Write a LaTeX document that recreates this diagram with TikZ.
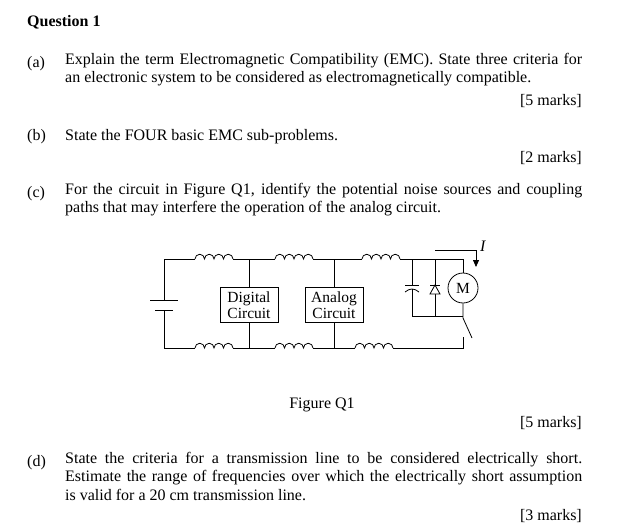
\documentclass[tikz,border=0pt]{standalone}
\usepackage{fontspec}
\setmainfont{Liberation Serif}
\usetikzlibrary{arrows.meta}
\begin{document}
\begin{tikzpicture}[x=1pt,y=-1pt,
  txt/.style={anchor=base west,inner sep=0,font=\fontsize{16}{18}\selectfont},
  para/.style={anchor=north west,inner sep=0,text width=517pt,align=justify,font=\fontsize{16}{18.5}\selectfont},
  mk/.style={anchor=base east,inner sep=0,font=\fontsize{16}{18}\selectfont},
  w/.style={line width=0.8pt},
  box/.style={draw,line width=0.8pt,minimum width=58pt,minimum height=35pt,inner sep=1pt,align=center,font=\fontsize{15.5}{16}\selectfont}]
\newcommand\indu[2]{\draw[w] (#1,#2) arc[start angle=180,end angle=360,radius=4.75] arc[start angle=180,end angle=360,radius=4.75] arc[start angle=180,end angle=360,radius=4.75] arc[start angle=180,end angle=360,radius=4.75];}
\useasboundingbox (0,0) rectangle (632,527);
\node[txt,font=\bfseries\fontsize{16}{18}\selectfont] (q) at (27,27) {Question 1};
\node[txt] (la) at (27,67) {(a)};
\node[para] (pa) at (65,53) {Explain the term Electromagnetic Compatibility (EMC). State three criteria for\linebreak an electronic system to be considered as electromagnetically compatible.};
\node[mk] (ma) at (582,105) {[5 marks]};
\node[txt] (lb) at (27,140) {(b)};
\node[txt] (tb) at (65,140) {State the FOUR basic EMC sub-problems.};
\node[mk] (mb) at (582,162) {[2 marks]};
\node[txt] (lc) at (27,197) {(c)};
\node[para] (pc) at (65,183) {For the circuit in Figure Q1, identify the potential noise sources and coupling\linebreak paths that may interfere the operation of the analog circuit.};
\node[txt,anchor=base] (fig) at (322,408) {Figure Q1};
\node[mk] (mc) at (582,427) {[5 marks]};
\node[txt] (ld) at (27,466) {(d)};
\node[para] (pd) at (65,452) {State the criteria for a transmission line to be considered electrically short.\linebreak Estimate the range of frequencies over which the electrically short assumption\linebreak is valid for a 20 cm transmission line.};
\node[mk] (md) at (582,520) {[3 marks]};
% circuit
\node[box] (dig) at (249,305) {Digital\\Circuit};
\node[box] (ana) at (334,305) {Analog\\Circuit};
\coordinate (tl) at (164,259); \coordinate (bl) at (164,348);
\draw[w] (164,300) -- (tl) -- (195,259);
\indu{195}{259}
\draw[w] (233,259) -- (275,259);
\indu{275}{259}
\draw[w] (313,259) -- (362,259);
\indu{362}{259}
\draw[w] (400,259) -- (463,259) -- (463,273);
\draw[w] (164,310) -- (bl) -- (195,348);
\indu{195}{348}
\draw[w] (233,348) -- (275,348);
\indu{275}{348}
\draw[w] (313,348) -- (355,348);
\indu{355}{348}
\draw[w] (393,348) -- (463,348) -- (463,337);
% battery
\draw[w] (150,300) -- (178,300);
\draw[w] (155,310) -- (173,310);
% branches
\draw[w] (249,259) -- (dig.north); \draw[w] (dig.south) -- (249,348);
\draw[w] (334,259) -- (ana.north); \draw[w] (ana.south) -- (334,348);
% cap and diode
\draw[w] (412,259) -- (412,285); \draw[w] (405,285) -- (419,285);
\draw[w] (405,292) .. controls (410,288) and (414,288) .. (419,292);
\draw[w] (412,289) -- (412,316);
\draw[w] (435,259) -- (435,316);
\draw[w,fill=white] (430,294) -- (440,294) -- (435,285) -- cycle;
\draw[w] (430,285) -- (440,285);
\draw[w] (412,316) -- (463,316);
\node[draw,circle,w,minimum size=30pt,inner sep=0,font=\fontsize{15.5}{16}\selectfont] (m) at (463,288) {M};
\draw[w] (m.south) -- (463,318) -- (472,338);
% current arrow
\draw[w,-{Triangle[length=7pt,width=6pt]}] (435,250) -- (476,250) -- (476,267);
\node[txt,font=\itshape\fontsize{16}{18}\selectfont] (I) at (480,251) {I};
\end{tikzpicture}
\end{document}
